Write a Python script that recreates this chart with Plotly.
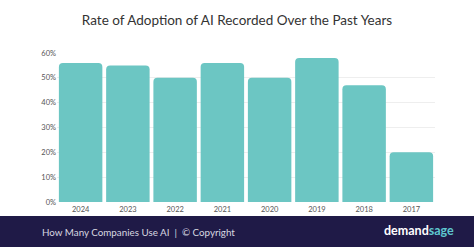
import plotly.graph_objects as go

years = ["2024", "2023", "2022", "2021", "2020", "2019", "2018", "2017"]
adoption = [56, 55, 50, 56, 50, 58, 47, 20]
y_ticks = [0, 10, 20, 30, 40, 50, 60]
y_tick_labels = ["0%", "10%", "20%", "30%", "40%", "50%", "60%"]

W, H = 474, 247
L, R, T, B = 57, 39, 53, 45
pw, ph = W - L - R, H - T - B

def px(x):
    return (x - L) / pw

def py(y):
    return (H - B - y) / ph

fig = go.Figure(go.Bar(
    x=years, y=adoption,
    marker=dict(color="#6cc6c3", cornerradius=4, line=dict(width=0)),
))

fig.update_layout(
    width=W, height=H,
    margin=dict(l=L, r=R, t=T, b=B),
    paper_bgcolor="white", plot_bgcolor="white",
    bargap=0.08,
    showlegend=False,
    font=dict(family="Lato, sans-serif", color="#444"),
    title=dict(text="Rate of Adoption of AI Recorded Over the Past Years",
               x=0.5, xanchor="center", y=1 - 20 / H, yanchor="middle",
               font=dict(size=13.5, color="#333", family="Lato, sans-serif")),
    xaxis=dict(showgrid=False, showline=False, ticks="", tickfont=dict(size=7.5, color="#555"),
               ticklabelstandoff=1),
    yaxis=dict(range=[0, 60], tickvals=y_ticks, ticktext=y_tick_labels,
               showgrid=True, gridcolor="#eeeeee", gridwidth=1, zeroline=False,
               showline=False, ticks="", tickfont=dict(size=7.5, color="#555")),
    shapes=[dict(type="rect", xref="paper", yref="paper",
                 x0=px(0), x1=px(W), y0=py(216), y1=py(H + 2),
                 fillcolor="#1f1a47", line=dict(width=0), layer="above")],
    annotations=[
        dict(text="How Many Companies Use AI  |  © Copyright", xref="paper", yref="paper",
             x=px(40), y=py(232), xanchor="left", yanchor="middle", showarrow=False,
             font=dict(size=9.8, color="#d8d8e0", family="Lato, sans-serif")),
        dict(text="<b>demand</b><span style='color:#5ec7cf'><b>sage</b></span>", xref="paper", yref="paper",
             x=px(456), y=py(230), xanchor="right", yanchor="middle", showarrow=False,
             font=dict(size=12.5, color="#ffffff", family="Lato, sans-serif")),
    ],
)

fig.write_html("out.html")
